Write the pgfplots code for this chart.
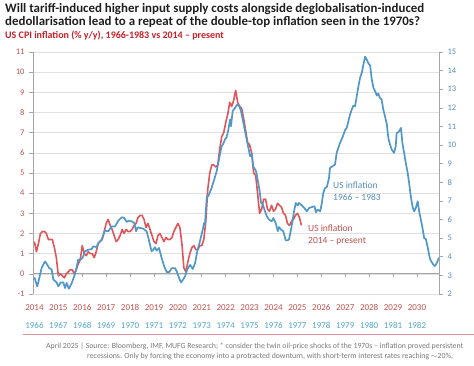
\documentclass[border=0pt]{standalone}
\usepackage{fontspec}
\setmainfont{Carlito}
\usepackage{pgfplots}
\usepackage{pgfplotstable}
\pgfplotsset{compat=1.18}
\definecolor{redline}{RGB}{224,85,90}
\definecolor{blueline}{RGB}{79,152,200}
\definecolor{redtxt}{RGB}{192,80,77}
\definecolor{bluetxt}{RGB}{86,140,185}
\definecolor{blueyr}{RGB}{80,165,205}
\definecolor{titlecol}{RGB}{30,30,30}
\definecolor{subred}{RGB}{200,30,40}
\definecolor{gridc}{RGB}{224,224,224}
\definecolor{axc}{RGB}{165,165,165}
\definecolor{footc}{RGB}{120,120,120}
\definecolor{footline}{RGB}{215,150,150}

\pgfplotstableread{
t v
2014.000 1.6
2014.083 1.1
2014.167 1.5
2014.250 2.0
2014.333 2.1
2014.417 2.1
2014.500 2.0
2014.583 1.7
2014.667 1.7
2014.750 1.7
2014.833 1.3
2014.917 0.8
2015.000 -0.1
2015.083 0.0
2015.167 -0.1
2015.250 -0.2
2015.333 0.0
2015.417 0.1
2015.500 0.2
2015.583 0.2
2015.667 0.0
2015.750 0.2
2015.833 0.5
2015.917 0.7
2016.000 1.4
2016.083 1.0
2016.167 0.9
2016.250 1.1
2016.333 1.0
2016.417 1.0
2016.500 0.8
2016.583 1.1
2016.667 1.5
2016.750 1.6
2016.833 1.7
2016.917 2.1
2017.000 2.5
2017.083 2.7
2017.167 2.4
2017.250 2.2
2017.333 1.9
2017.417 1.6
2017.500 1.7
2017.583 1.9
2017.667 2.2
2017.750 2.0
2017.833 2.2
2017.917 2.1
2018.000 2.1
2018.083 2.2
2018.167 2.4
2018.250 2.5
2018.333 2.8
2018.417 2.9
2018.500 2.9
2018.583 2.7
2018.667 2.3
2018.750 2.5
2018.833 2.2
2018.917 1.9
2019.000 1.6
2019.083 1.5
2019.167 1.9
2019.250 2.0
2019.333 1.8
2019.417 1.6
2019.500 1.8
2019.583 1.7
2019.667 1.7
2019.750 1.8
2019.833 2.1
2019.917 2.3
2020.000 2.5
2020.083 2.3
2020.167 1.5
2020.250 0.3
2020.333 0.1
2020.417 0.6
2020.500 1.0
2020.583 1.3
2020.667 1.4
2020.750 1.2
2020.833 1.2
2020.917 1.4
2021.000 1.4
2021.083 1.7
2021.167 2.6
2021.250 4.2
2021.333 5.0
2021.417 5.4
2021.500 5.4
2021.583 5.3
2021.667 5.4
2021.750 6.2
2021.833 6.8
2021.917 7.0
2022.000 7.5
2022.083 7.9
2022.167 8.5
2022.250 8.3
2022.333 8.6
2022.417 9.1
2022.500 8.5
2022.583 8.3
2022.667 8.2
2022.750 7.7
2022.833 7.1
2022.917 6.5
2023.000 6.4
2023.083 6.0
2023.167 5.0
2023.250 4.9
2023.333 4.0
2023.417 3.0
2023.500 3.2
2023.583 3.7
2023.667 3.7
2023.750 3.2
2023.833 3.1
2023.917 3.4
2024.000 3.1
2024.083 3.2
2024.167 3.5
2024.250 3.4
2024.333 3.3
2024.417 3.0
2024.500 2.9
2024.583 2.5
2024.667 2.4
2024.750 2.6
2024.833 2.7
2024.917 2.9
2025.000 3.0
2025.083 2.8
2025.167 2.4
}\recent

\pgfplotstableread{
t v
2014.00 2.89
2014.12 2.41
2014.30 3.39
2014.44 3.75
2014.54 3.57
2014.62 3.39
2014.72 3.32
2014.79 2.78
2014.93 2.62
2015.00 2.41
2015.10 2.62
2015.21 2.62
2015.28 2.32
2015.35 2.59
2015.44 2.28
2015.56 2.59
2015.69 3.04
2015.77 3.48
2015.83 3.84
2015.97 3.88
2016.04 4.02
2016.11 4.29
2016.25 4.38
2016.39 4.41
2016.46 4.56
2016.60 4.52
2016.67 4.74
2016.81 4.92
2016.95 5.40
2017.09 5.37
2017.23 5.63
2017.37 5.63
2017.51 5.94
2017.65 6.12
2017.76 6.08
2017.86 5.87
2017.95 5.94
2018.07 5.90
2018.18 5.81
2018.25 5.37
2018.32 5.58
2018.41 5.55
2018.55 5.51
2018.69 5.37
2018.76 5.04
2018.90 4.29
2018.97 4.38
2019.04 4.51
2019.11 4.33
2019.21 4.47
2019.32 3.93
2019.43 3.48
2019.53 3.18
2019.64 3.18
2019.74 3.39
2019.88 3.39
2019.95 3.22
2020.05 2.86
2020.13 2.62
2020.23 2.80
2020.30 2.95
2020.39 3.31
2020.51 3.57
2020.62 3.34
2020.72 3.66
2020.81 4.29
2020.92 4.83
2021.04 5.46
2021.09 5.81
2021.13 5.72
2021.21 7.25
2021.27 7.25
2021.41 7.70
2021.52 8.15
2021.62 8.59
2021.73 9.31
2021.83 9.94
2021.90 10.08
2021.97 10.30
2022.04 10.42
2022.11 10.83
2022.18 11.37
2022.22 11.01
2022.29 11.82
2022.39 12.00
2022.49 12.18
2022.57 12.09
2022.64 11.82
2022.74 11.19
2022.85 10.47
2022.92 10.02
2023.02 9.40
2023.09 9.54
2023.15 8.86
2023.27 8.59
2023.36 7.96
2023.41 7.60
2023.48 6.89
2023.53 6.89
2023.62 6.53
2023.72 6.17
2023.81 6.00
2023.92 5.90
2023.99 6.08
2024.09 5.81
2024.18 5.37
2024.23 5.60
2024.31 5.46
2024.41 5.37
2024.51 4.88
2024.59 4.88
2024.65 4.95
2024.73 5.46
2024.79 5.90
2024.87 6.53
2024.93 6.89
2025.01 6.76
2025.07 6.89
2025.18 6.76
2025.29 6.62
2025.39 6.44
2025.49 6.62
2025.60 6.67
2025.71 6.71
2025.77 6.39
2025.85 6.53
2025.95 6.44
2026.02 6.89
2026.08 7.42
2026.15 7.69
2026.23 7.75
2026.32 8.23
2026.36 8.77
2026.46 8.86
2026.57 8.95
2026.64 9.58
2026.71 9.85
2026.78 10.11
2026.90 10.47
2026.99 10.80
2027.06 10.92
2027.13 11.28
2027.20 11.64
2027.27 11.91
2027.34 12.12
2027.41 12.09
2027.48 12.62
2027.55 13.16
2027.62 13.61
2027.69 13.88
2027.76 14.33
2027.83 14.75
2027.90 14.59
2027.97 14.38
2028.04 14.27
2028.11 13.52
2028.18 13.07
2028.25 12.89
2028.32 12.66
2028.38 12.77
2028.45 12.53
2028.52 12.45
2028.59 11.91
2028.66 11.55
2028.74 11.10
2028.80 10.38
2028.87 10.03
2028.94 9.76
2029.04 9.58
2029.11 9.94
2029.15 10.65
2029.22 10.69
2029.29 10.83
2029.33 10.92
2029.39 10.11
2029.46 9.58
2029.53 9.04
2029.60 8.59
2029.67 7.96
2029.74 7.25
2029.81 6.71
2029.88 6.44
2029.95 6.62
2030.03 6.98
2030.09 6.44
2030.16 6.00
2030.23 5.54
2030.30 5.00
2030.37 4.95
2030.44 4.56
2030.54 3.90
2030.60 3.75
2030.67 3.60
2030.74 3.50
2030.80 3.60
2030.89 3.85
2030.93 3.95
}\seventies

\begin{document}
\begin{tikzpicture}
\path[use as bounding box] (0pt,0pt) rectangle (474pt,366pt);
\clip (0pt,0pt) rectangle (474pt,366pt);

\node[anchor=base west, inner sep=0, text=titlecol, font=\bfseries\fontsize{12.9}{15}\selectfont] at (5pt,353.5pt) {Will tariff-induced higher input supply costs alongside deglobalisation-induced};
\node[anchor=base west, inner sep=0, text=titlecol, font=\bfseries\fontsize{12.9}{15}\selectfont] at (5pt,340.5pt) {dedollarisation lead to a repeat of the double-top inflation seen in the 1970s?};
\node[anchor=base west, inner sep=0, text=subred, font=\bfseries\fontsize{10}{12}\selectfont] at (5pt,327.5pt) {US CPI inflation (\% y/y), 1966-1983 vs 2014 -- present};

\begin{axis}[
  at={(33pt,72pt)}, anchor=south west, scale only axis,
  width=406pt, height=242pt,
  xmin=2013.94, xmax=2030.92, ymin=-1, ymax=11,
  axis y line*=left, axis x line*=bottom,
  x axis line style={draw=none},
  y axis line style={axc, line width=0.6pt},
  xtick={2014,...,2030},
  xticklabels={
   {\textcolor{redtxt}{2014}\\\textcolor{blueyr}{1966}},
   {\textcolor{redtxt}{2015}\\\textcolor{blueyr}{1967}},
   {\textcolor{redtxt}{2016}\\\textcolor{blueyr}{1968}},
   {\textcolor{redtxt}{2017}\\\textcolor{blueyr}{1969}},
   {\textcolor{redtxt}{2018}\\\textcolor{blueyr}{1970}},
   {\textcolor{redtxt}{2019}\\\textcolor{blueyr}{1971}},
   {\textcolor{redtxt}{2020}\\\textcolor{blueyr}{1972}},
   {\textcolor{redtxt}{2021}\\\textcolor{blueyr}{1973}},
   {\textcolor{redtxt}{2022}\\\textcolor{blueyr}{1974}},
   {\textcolor{redtxt}{2023}\\\textcolor{blueyr}{1975}},
   {\textcolor{redtxt}{2024}\\\textcolor{blueyr}{1976}},
   {\textcolor{redtxt}{2025}\\\textcolor{blueyr}{1977}},
   {\textcolor{redtxt}{2026}\\\textcolor{blueyr}{1978}},
   {\textcolor{redtxt}{2027}\\\textcolor{blueyr}{1979}},
   {\textcolor{redtxt}{2028}\\\textcolor{blueyr}{1980}},
   {\textcolor{redtxt}{2029}\\\textcolor{blueyr}{1981}},
   {\textcolor{redtxt}{2030}\\\textcolor{blueyr}{1982}}},
  xticklabel style={align=center, anchor=north, yshift=-3pt, font=\fontsize{9}{18}\selectfont},
  x tick style={draw=none},
  ytick={-1,0,...,11},
  yticklabel style={text=redtxt, font=\fontsize{8.5}{10}\selectfont, xshift=-1pt},
  y tick style={axc, line width=0.6pt},
  tick align=outside, major tick length=4pt,
  ymajorgrids, grid style={gridc, line width=0.6pt},
  extra y ticks={0}, extra y tick labels={},
  extra y tick style={grid style={axc, line width=0.7pt}, major tick length=0pt},
  /pgf/number format/assume math mode=true,
]
\addplot[redline, line width=1.6pt, line join=round] table[x=t,y=v] {\recent};
\end{axis}

\begin{axis}[
  at={(33pt,72pt)}, anchor=south west, scale only axis,
  width=406pt, height=242pt,
  xmin=2013.94, xmax=2030.92, ymin=-1, ymax=11,
  axis x line*=bottom, axis y line=none,
  x axis line style={draw=none},
  xtick={2015,...,2030}, xticklabels={},
  x tick style={axc, line width=0.6pt, yshift=20.17pt},
  tick align=outside, major tick length=3.5pt,
]
\end{axis}

\begin{axis}[
  at={(33pt,72pt)}, anchor=south west, scale only axis,
  width=406pt, height=242pt,
  xmin=2013.94, xmax=2030.92, ymin=2, ymax=15,
  axis y line*=right, axis x line=none,
  y axis line style={axc, line width=0.6pt},
  ytick={2,3,...,15},
  yticklabel style={text=bluetxt, font=\fontsize{8.5}{10}\selectfont, xshift=1pt},
  y tick style={axc, line width=0.6pt},
  tick align=outside, major tick length=4pt,
  /pgf/number format/assume math mode=true,
]
\addplot[blueline, line width=1.7pt, line join=round] table[x=t,y=v] {\seventies};
\end{axis}

\node[anchor=west, align=left, inner sep=0, text=bluetxt, font=\fontsize{9.5}{12}\selectfont] at (333pt,175pt) {US inflation\\1966 -- 1983};
\node[anchor=west, align=left, inner sep=0, text=redtxt, font=\fontsize{9.5}{12}\selectfont] at (308pt,131pt) {US inflation\\2014 -- present};

\draw[footline, line width=1pt] (23pt,31pt) -- (474pt,31pt);
\node[anchor=base west, inner sep=0, text=footc, font=\fontsize{7.8}{9}\selectfont] at (46pt,17pt) {April 2025 | Source: Bloomberg, IMF, MUFG Research; * consider the twin oil-price shocks of the 1970s -- inflation proved persistent};
\node[anchor=base west, inner sep=0, text=footc, font=\fontsize{7.8}{9}\selectfont] at (87pt,7pt) {recessions. Only by forcing the economy into a protracted downturn, with short-term interest rates reaching $\sim$20\%,};
\end{tikzpicture}
\end{document}
